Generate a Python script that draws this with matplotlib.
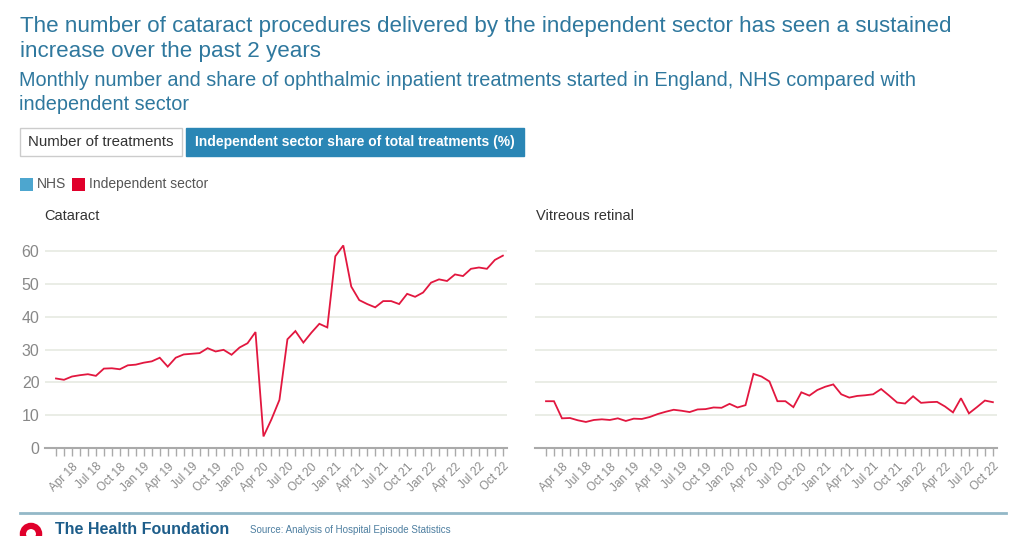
import matplotlib
matplotlib.use("Agg")
import matplotlib.pyplot as plt
from matplotlib.patches import Rectangle, Circle

plt.rcParams['font.family'] = ['Liberation Sans', 'DejaVu Sans']

# monthly categories Feb 18 .. Oct 22
months = ['Jan', 'Feb', 'Mar', 'Apr', 'May', 'Jun', 'Jul', 'Aug', 'Sep', 'Oct', 'Nov', 'Dec']
periods = []
for yr in range(18, 23):
    for m in months:
        periods.append(f"{m} {yr}")
periods = periods[1:periods.index('Oct 22') + 1]

# independent sector share of total treatments (%)
cataract = [21.2, 20.8, 21.8, 22.2, 22.5, 22.0, 24.2, 24.3, 24.0, 25.2,
            25.4, 26.0, 26.4, 27.5, 24.8, 27.5, 28.5, 28.7, 28.9, 30.4,
            29.4, 29.9, 28.4, 30.6, 31.9, 35.3, 3.6, 8.8, 14.7, 33.1,
            35.6, 32.1, 35.1, 37.8, 36.7, 58.3, 61.6, 49.1, 45.0, 43.8,
            42.8, 44.7, 44.7, 43.8, 46.9, 46.0, 47.3, 50.3, 51.3, 50.8,
            52.8, 52.3, 54.5, 54.9, 54.5, 57.2, 58.5]
vitreous = [14.3, 14.3, 9.1, 9.2, 8.5, 8.0, 8.6, 8.8, 8.6, 9.1,
            8.3, 9.0, 8.9, 9.5, 10.4, 11.1, 11.7, 11.4, 11.0, 11.8,
            11.9, 12.4, 12.3, 13.5, 12.4, 13.1, 22.6, 21.8, 20.3, 14.3,
            14.3, 12.5, 17.0, 16.0, 17.7, 18.7, 19.4, 16.4, 15.4, 15.9,
            16.1, 16.4, 18.0, 16.0, 13.9, 13.6, 15.8, 13.8, 14.0, 14.1,
            12.7, 10.9, 15.2, 10.6, 12.5, 14.5, 14.0]
yticks = [0, 10, 20, 30, 40, 50, 60]

W, H = 1024, 536
fig = plt.figure(figsize=(W / 100, H / 100), dpi=100)

def fx(px):
    return px / W

def fy(py):
    return 1 - py / H

title_c = '#2f789e'
red = '#e2173f'
grey_txt = '#8a8a8a'

fig.text(fx(20), fy(16), "The number of cataract procedures delivered by the independent sector has seen a sustained\nincrease over the past 2 years",
         fontsize=16.1, color=title_c, va='top', linespacing=1.28)
fig.text(fx(19), fy(71), "Monthly number and share of ophthalmic inpatient treatments started in England, NHS compared with\nindependent sector",
         fontsize=14.3, color=title_c, va='top', linespacing=1.3)

# toggle buttons
fig.add_artist(Rectangle((fx(20), fy(156)), fx(162), 28 / H, facecolor='white',
                         edgecolor='#cccccc', lw=1, transform=fig.transFigure))
fig.text(fx(101), fy(142), "Number of treatments", fontsize=10.8, color='#333333', ha='center', va='center')
fig.add_artist(Rectangle((fx(186), fy(156)), fx(338), 28 / H, facecolor='#2a86b5',
                         edgecolor='#2a86b5', lw=1, transform=fig.transFigure))
fig.text(fx(355), fy(142), "Independent sector share of total treatments (%)", fontsize=10,
         color='white', ha='center', va='center', fontweight='bold')

# legend
fig.add_artist(Rectangle((fx(20), fy(191)), fx(13), 13 / H, facecolor='#4da6cf', lw=0, transform=fig.transFigure))
fig.text(fx(37), fy(184), "NHS", fontsize=10, color='#555555', va='center')
fig.add_artist(Rectangle((fx(72), fy(191)), fx(13), 13 / H, facecolor='#e0002b', lw=0, transform=fig.transFigure))
fig.text(fx(89), fy(184), "Independent sector", fontsize=10, color='#555555', va='center')

fig.text(fx(44), fy(216), "Cataract", fontsize=10.5, color='#333333', va='center')
fig.text(fx(536), fy(216), "Vitreous retinal", fontsize=10.5, color='#333333', va='center')

y0, ytop = 448.3, 234
ax_h = (y0 - ytop) / H
step = 7.98
ymax = (y0 - ytop) / ((y0 - 250.7) / 60)
x = list(range(len(periods)))
xlabels = [p if p.split()[0] in ('Jan', 'Apr', 'Jul', 'Oct') else '' for p in periods]

for left, right, first, data, show_y in [(45, 507, 56, cataract, True), (535, 997, 546, vitreous, False)]:
    ax = fig.add_axes([fx(left), fy(y0), fx(right - left), ax_h])
    ax.plot(x, data, color=red, lw=1.3, solid_joinstyle='miter')
    ax.set_xlim(-(first - left) / step, len(periods) - 1 + (right - first - (len(periods) - 1) * step) / step)
    ax.set_ylim(0, ymax)
    ax.set_yticks(yticks)
    ax.grid(axis='y', color='#e8ece4', lw=1.3)
    ax.set_axisbelow(True)
    for s in ['top', 'right', 'left']:
        ax.spines[s].set_visible(False)
    ax.spines['bottom'].set_color('#aaaaaa')
    ax.spines['bottom'].set_linewidth(1.5)
    ax.set_xticks(x)
    ax.set_xticklabels(xlabels, rotation=45, ha='right', rotation_mode='anchor',
                       fontsize=8.5, color=grey_txt)
    ax.tick_params(axis='x', length=6, width=1, color='#aaaaaa', pad=3)
    ax.tick_params(axis='y', length=0, pad=4, labelsize=11.5, labelcolor='#888888')
    if not show_y:
        ax.set_yticklabels([])

# footer
fig.add_artist(plt.Line2D([fx(20), fx(1006)], [fy(513), fy(513)], color='#93b8c7', lw=2, transform=fig.transFigure))
logo = fig.add_axes([fx(17), fy(548), fx(28), 28 / H])
logo.set_xlim(-1, 1)
logo.set_ylim(-1, 1)
logo.set_aspect('equal')
logo.axis('off')
logo.add_patch(Circle((0, 0), 0.58, facecolor='none', edgecolor='#e0002b', lw=4.5))
fig.text(fx(55), fy(529), "The Health Foundation", fontsize=11.5, color='#1d5d8a', va='center', fontweight='bold')
fig.text(fx(250), fy(530), "Source: Analysis of Hospital Episode Statistics",
         fontsize=7, color='#4d7ea0', va='center')

fig.savefig('out.png', dpi=100)
